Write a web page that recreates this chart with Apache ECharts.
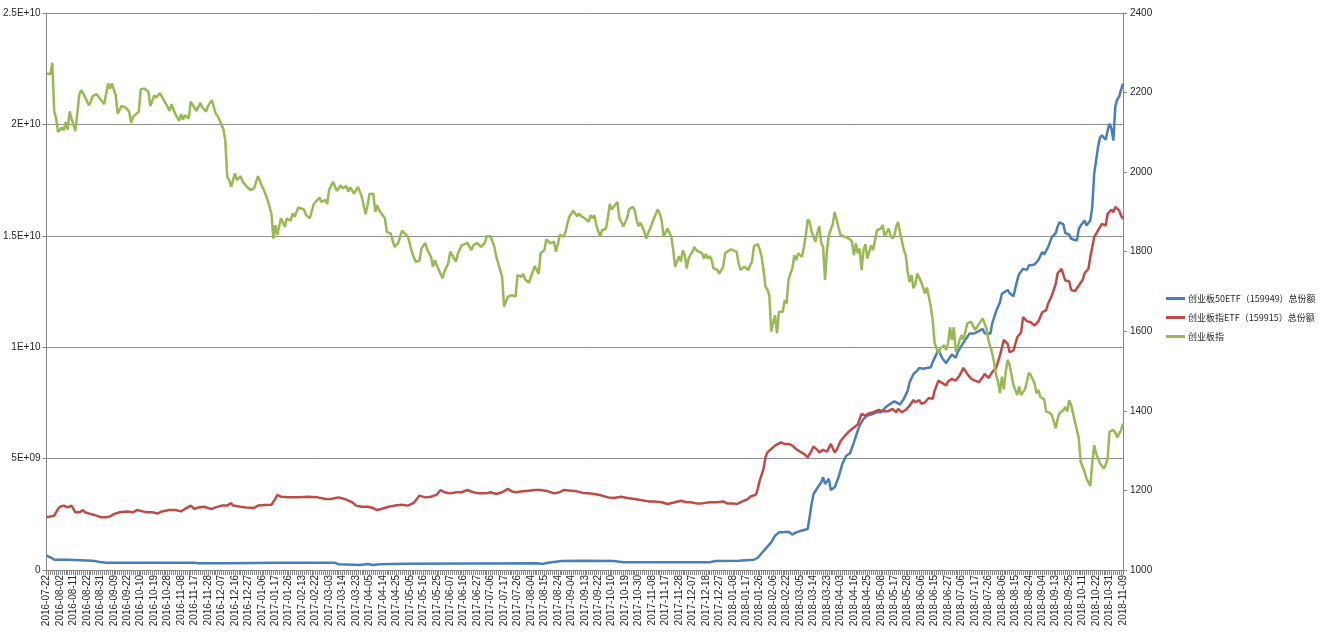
<!DOCTYPE html>
<html>
<head>
<meta charset="utf-8">
<script src="https://cdn.jsdelivr.net/npm/echarts@6/dist/echarts.min.js"></script>
<style>
html,body{margin:0;padding:0;background:#fff;}
#chart{width:1325px;height:635px;}
</style>
</head>
<body>
<div id="chart"></div>
<script>
// Tick labels (every 7th trading day)
const xLabels = ["2016-07-22","2016-08-02","2016-08-11","2016-08-22","2016-08-31","2016-09-09","2016-09-22","2016-10-10","2016-10-19","2016-10-28","2016-11-08","2016-11-17","2016-11-28","2016-12-07","2016-12-16","2016-12-27",
"2017-01-06","2017-01-17","2017-01-26","2017-02-13","2017-02-22","2017-03-03","2017-03-14","2017-03-23","2017-04-05","2017-04-14","2017-04-25","2017-05-05","2017-05-16","2017-05-25","2017-06-07","2017-06-16","2017-06-27","2017-07-06","2017-07-17","2017-07-26","2017-08-04","2017-08-15","2017-08-24","2017-09-04","2017-09-13","2017-09-22","2017-10-10","2017-10-19","2017-10-30","2017-11-08","2017-11-17","2017-11-28","2017-12-07","2017-12-18","2017-12-27",
"2018-01-08","2018-01-17","2018-01-26","2018-02-06","2018-02-22","2018-03-05","2018-03-14","2018-03-23","2018-04-03","2018-04-16","2018-04-25","2018-05-08","2018-05-17","2018-05-28","2018-06-06","2018-06-15","2018-06-27","2018-07-06","2018-07-17","2018-07-26","2018-08-06","2018-08-15","2018-08-24","2018-09-04","2018-09-13","2018-09-25","2018-10-11","2018-10-22","2018-10-31","2018-11-09"];

const seriesNames = ["创业板50ETF（159949）总份额","创业板指ETF（159915）总份额","创业板指"];

// [trading-day index, total shares in units of 1e8]
const shares159949 = [[0,6.4],[2,5.7],[4,4.6],[11,4.6],[12,4.2],[24,4.2],[27,3.7],[31,3.3],[77,3.3],[79,3.0],[94,3.0],[120,3.2],[150,3.2],[152,2.6],[163,2.2],[167,2.7],[170,2.2],[173,2.6],[187,2.8],[255,3.0],[258,2.7],[261,3.3],[268,4.0],[280,4.2],[295,4.0],[300,3.5],[345,3.5],[348,4.0],[360,4.2],[368,4.6],[370,5.5],[372,7.5],[374,9.5],[377,12.4],[379,15.4],[381,16.9],[383,16.9],[384,16.5],[386,17.2],[388,15.9],[390,16.9],[393,17.7],[396,18.4],[397,19.2],[398,29.6],[399,34.1],[401,36.8],[403,39.4],[404,41.6],[405,38.6],[407,40.9],[408,35.9],[409,35.6],[410,37.1],[412,41.6],[414,47.6],[416,51.3],[418,52.4],[420,57.3],[422,62.6],[423,64.8],[425,67.8],[427,69.3],[429,69.8],[430,70.1],[432,70.8],[434,70.8],[435,71.3],[437,73.4],[439,74.6],[441,75.7],[442,75.7],[444,74.3],[446,76.8],[448,80.5],[449,84.3],[451,88.0],[453,89.5],[454,90.7],[456,90.3],[458,90.7],[460,91.0],[461,93.3],[463,97.0],[464,98.8],[466,95.0],[468,92.8],[469,94.3],[471,96.7],[473,95.2],[474,97.8],[476,100.7],[478,103.3],[480,106.0],[481,105.2],[483,106.3],[485,107.2],[487,108.2],[488,106.3],[491,106.0],[492,110.8],[494,116.2],[496,120.2],[497,124.0],[500,125.7],[501,124.3],[503,122.8],[505,130.2],[506,132.9],[508,135.2],[510,134.7],[511,136.7],[512,137.4],[514,137.1],[516,139.2],[518,142.7],[519,141.6],[521,144.9],[523,149.4],[525,151.2],[526,154.2],[527,156.1],[529,155.1],[530,151.2],[532,150.6],[533,148.7],[536,147.9],[537,153.1],[538,154.6],[540,156.9],[541,154.6],[543,156.9],[544,162.9],[545,177.8],[547,189.8],[548,194.0],[549,195.1],[551,193.1],[552,197.3],[553,200.3],[554,198.1],[555,192.8],[556,208.0],[557,211.2],[558,212.5],[559,215.6],[560,218.3]];

const shares159915 = [[0,23.7],[2,24.0],[4,24.4],[6,27.4],[7,28.4],[9,28.9],[11,28.1],[13,28.9],[15,25.9],[17,25.9],[19,26.9],[20,25.9],[23,25.1],[26,24.4],[28,23.7],[31,23.7],[33,24.0],[35,25.1],[38,25.9],[39,26.6],[42,26.3],[45,25.9],[47,26.9],[50,26.3],[52,25.9],[55,25.9],[58,25.4],[60,26.3],[64,26.9],[67,26.9],[70,26.3],[72,27.4],[75,28.9],[77,27.4],[79,28.1],[82,28.4],[84,27.8],[86,27.4],[88,28.1],[91,28.9],[94,28.9],[96,30.1],[97,28.9],[101,28.4],[104,28.1],[108,27.8],[110,28.9],[114,29.2],[117,29.3],[119,31.9],[120,33.7],[122,32.9],[126,32.6],[131,32.6],[136,32.9],[141,32.6],[145,31.9],[148,31.9],[152,32.6],[155,31.9],[159,30.4],[161,28.9],[164,28.4],[167,28.4],[170,27.8],[172,26.9],[174,27.4],[178,28.4],[181,28.9],[185,29.3],[188,28.9],[191,30.1],[194,33.4],[197,32.6],[200,32.9],[203,33.8],[205,35.9],[207,34.9],[210,34.4],[213,34.9],[216,34.9],[219,35.9],[222,34.9],[225,34.4],[229,34.4],[231,34.9],[234,34.1],[237,34.9],[240,36.4],[242,35.3],[244,34.9],[248,35.3],[251,35.6],[254,35.9],[257,35.9],[261,35.3],[264,34.4],[267,34.9],[269,35.9],[273,35.6],[276,35.3],[279,34.6],[282,34.4],[285,34.1],[289,33.4],[292,32.6],[295,32.3],[299,32.9],[302,32.3],[306,31.9],[309,31.4],[313,30.8],[316,30.8],[320,30.4],[323,29.6],[327,30.4],[330,31.1],[333,30.4],[335,30.4],[338,29.9],[341,29.9],[345,30.4],[349,30.4],[352,30.8],[354,29.9],[357,29.9],[359,29.6],[362,30.8],[365,31.9],[366,32.9],[369,33.8],[370,36.4],[371,40.1],[373,45.4],[374,50.6],[375,52.8],[377,54.3],[379,55.8],[380,56.3],[382,57.3],[384,56.6],[386,56.6],[388,55.8],[390,54.3],[392,53.1],[394,52.1],[396,50.6],[398,53.6],[399,55.4],[401,53.9],[402,52.8],[404,53.9],[406,53.1],[408,56.6],[410,52.8],[411,53.9],[413,57.8],[415,59.9],[417,61.8],[419,63.3],[420,63.8],[422,65.3],[423,67.8],[424,70.1],[426,69.3],[428,70.4],[430,70.8],[431,71.6],[433,71.9],[435,71.3],[436,70.8],[438,71.3],[440,72.3],[442,70.8],[443,72.3],[445,70.8],[447,71.9],[449,73.8],[451,76.3],[452,75.3],[454,76.3],[455,74.6],[457,75.3],[459,77.2],[461,76.8],[462,80.5],[464,85.0],[465,84.3],[468,82.8],[469,84.7],[471,85.8],[473,85.0],[475,87.3],[477,90.7],[479,88.0],[481,85.8],[483,85.0],[485,84.3],[487,86.5],[488,88.0],[490,86.2],[492,88.8],[494,90.7],[496,96.3],[498,103.3],[500,101.5],[501,97.8],[503,98.5],[505,104.5],[507,106.7],[508,113.5],[510,111.7],[512,111.2],[514,109.7],[516,111.7],[518,115.7],[520,116.5],[521,119.5],[523,123.2],[525,128.4],[526,133.2],[528,135.2],[530,129.9],[532,129.6],[533,125.7],[535,125.1],[537,127.7],[539,130.2],[540,133.2],[542,135.2],[543,140.4],[545,149.4],[546,150.1],[548,153.9],[549,155.4],[551,154.6],[552,159.9],[554,161.7],[555,160.6],[556,162.9],[558,161.4],[559,159.1],[560,157.6]];

// [trading-day index, ChiNext index close]
const cybIndex = [[0,2248],[2,2246],[3,2275],[4,2152],[5,2135],[6,2101],[8,2112],[9,2105],[10,2126],[11,2107],[12,2153],[13,2135],[15,2103],[17,2193],[18,2206],[19,2199],[20,2202],[22,2168],[23,2177],[24,2191],[26,2196],[27,2191],[29,2177],[30,2171],[32,2223],[33,2210],[34,2223],[36,2193],[37,2147],[38,2146],[39,2166],[41,2163],[42,2168],[43,2152],[44,2124],[45,2139],[48,2152],[49,2208],[51,2210],[53,2202],[54,2166],[56,2193],[57,2187],[58,2193],[59,2199],[61,2181],[63,2164],[64,2154],[65,2171],[67,2146],[68,2143],[69,2129],[70,2146],[71,2132],[72,2143],[74,2135],[75,2177],[76,2179],[78,2154],[79,2152],[80,2174],[81,2163],[83,2152],[84,2166],[85,2163],[86,2181],[87,2177],[88,2147],[89,2141],[90,2131],[91,2135],[92,2108],[93,2080],[94,1988],[95,1980],[96,1963],[98,1997],[99,1980],[101,1990],[102,1976],[104,1965],[105,1970],[106,1955],[108,1960],[110,1990],[112,1965],[113,1956],[115,1930],[117,1896],[118,1833],[119,1867],[120,1842],[122,1884],[124,1863],[125,1884],[127,1878],[128,1896],[129,1888],[131,1911],[132,1913],[134,1906],[135,1892],[137,1884],[139,1920],[140,1923],[142,1936],[143,1925],[145,1930],[146,1920],[147,1955],[149,1976],[151,1953],[153,1967],[154,1959],[156,1965],[157,1951],[158,1962],[160,1946],[162,1963],[164,1938],[166,1894],[167,1917],[168,1945],[170,1946],[171,1900],[172,1917],[173,1904],[174,1908],[176,1884],[177,1850],[179,1846],[180,1850],[181,1812],[183,1822],[184,1839],[185,1853],[186,1848],[188,1838],[190,1800],[191,1804],[192,1775],[194,1777],[195,1808],[197,1822],[198,1806],[200,1787],[201,1762],[202,1779],[203,1766],[204,1764],[206,1733],[207,1750],[209,1771],[210,1800],[211,1797],[213,1775],[214,1796],[215,1797],[216,1816],[217,1812],[219,1822],[220,1825],[221,1804],[222,1816],[224,1822],[226,1812],[228,1822],[229,1839],[230,1836],[231,1839],[233,1812],[234,1787],[235,1783],[237,1737],[238,1662],[240,1687],[242,1691],[243,1687],[244,1687],[245,1741],[247,1737],[248,1744],[249,1730],[250,1733],[251,1722],[252,1737],[254,1764],[255,1762],[256,1744],[257,1796],[259,1804],[260,1831],[261,1833],[262,1821],[264,1825],[265,1800],[266,1819],[267,1842],[269,1838],[270,1850],[271,1871],[272,1888],[273,1888],[274,1903],[276,1889],[277,1896],[278,1890],[280,1884],[281,1888],[282,1875],[283,1892],[284,1884],[285,1892],[286,1867],[288,1838],[289,1854],[291,1858],[292,1884],[293,1920],[294,1906],[295,1913],[297,1925],[298,1884],[299,1875],[300,1863],[302,1884],[303,1906],[305,1913],[306,1904],[307,1879],[308,1864],[309,1873],[311,1850],[312,1833],[313,1848],[314,1858],[316,1884],[318,1906],[319,1896],[320,1879],[321,1838],[323,1858],[324,1854],[325,1838],[326,1805],[327,1762],[329,1789],[330,1775],[331,1804],[332,1792],[333,1758],[334,1783],[335,1779],[336,1800],[337,1812],[338,1804],[339,1806],[341,1796],[342,1783],[343,1794],[344,1783],[345,1789],[346,1779],[347,1758],[349,1754],[350,1745],[351,1747],[352,1762],[353,1796],[354,1797],[356,1806],[357,1806],[359,1800],[360,1771],[361,1754],[362,1758],[363,1762],[365,1754],[366,1766],[367,1775],[368,1814],[369,1814],[370,1819],[371,1806],[372,1787],[373,1754],[374,1712],[375,1705],[376,1691],[377,1599],[378,1621],[379,1640],[380,1595],[381,1649],[382,1652],[383,1649],[384,1678],[385,1670],[386,1729],[387,1745],[388,1758],[389,1791],[390,1779],[391,1796],[392,1800],[393,1787],[394,1812],[395,1842],[396,1881],[397,1875],[398,1850],[399,1848],[400,1825],[401,1848],[402,1864],[403,1822],[404,1812],[405,1729],[406,1804],[407,1842],[408,1838],[409,1869],[410,1900],[411,1900],[413,1842],[414,1839],[416,1836],[417,1833],[418,1831],[419,1825],[420,1791],[421,1821],[422,1796],[423,1808],[424,1754],[425,1804],[426,1819],[427,1783],[428,1800],[429,1816],[430,1804],[431,1829],[432,1854],[434,1858],[435,1867],[436,1838],[437,1833],[438,1858],[439,1842],[440,1833],[441,1839],[442,1863],[443,1875],[444,1848],[446,1804],[447,1791],[448,1749],[449,1724],[450,1741],[451,1708],[452,1720],[453,1745],[454,1743],[455,1724],[457,1695],[458,1710],[459,1687],[460,1662],[461,1628],[462,1570],[463,1565],[464,1544],[465,1557],[466,1557],[467,1565],[468,1553],[469,1570],[470,1610],[471,1578],[472,1610],[473,1549],[474,1561],[475,1578],[476,1590],[477,1578],[479,1620],[480,1621],[481,1624],[483,1603],[484,1607],[485,1618],[487,1632],[488,1635],[489,1607],[490,1578],[491,1561],[492,1544],[493,1519],[494,1490],[495,1473],[496,1444],[497,1486],[498,1454],[499,1498],[500,1528],[501,1515],[502,1490],[503,1465],[504,1465],[505,1440],[506,1461],[507,1440],[509,1454],[510,1473],[511,1496],[512,1490],[514,1469],[515,1444],[516,1452],[517,1435],[518,1440],[519,1429],[520,1398],[522,1395],[523,1389],[524,1385],[525,1356],[526,1381],[527,1394],[528,1392],[529,1402],[530,1410],[531,1398],[532,1427],[533,1415],[534,1410],[535,1373],[536,1352],[537,1331],[538,1272],[539,1268],[540,1247],[541,1230],[542,1235],[543,1211],[544,1268],[545,1314],[546,1293],[547,1281],[548,1268],[550,1255],[551,1264],[552,1280],[553,1348],[554,1352],[555,1352],[556,1345],[557,1333],[558,1328],[559,1352],[560,1368]];

const SHARE_UNIT = 1e8;
const leftTicks = {min:0, max:2.5e10, interval:5e9};
const rightTicks = {min:1000, max:2400, interval:200};

function sci(v){
  if (v === 0) return '0';
  const e = Math.floor(Math.log10(v) + 1e-9);
  let m = v / Math.pow(10, e);
  m = Math.round(m * 100) / 100;
  return String(m) + 'E+' + (e < 10 ? '0' + e : String(e));
}

const axisGray = '#868686';
const labelColor = '#262626';
const chart = echarts.init(document.getElementById('chart'), null, {renderer:'canvas'});
chart.setOption({
  animation:false,
  backgroundColor:'#ffffff',
  textStyle:{fontFamily:'"Liberation Sans", Arial, sans-serif'},
  grid:{left:44, right:202, top:13, bottom:65, containLabel:false},
  legend:{
    orient:'vertical', left:1161, top:289,
    icon:'rect', itemWidth:19, itemHeight:3, itemGap:10,
    textStyle:{fontSize:9, color:'#262626', fontFamily:'"Noto Sans CJK SC", sans-serif', padding:[0,0,0,-2]},
    data:seriesNames
  },
  xAxis:{
    type:'value', min:0, max:560, interval:7,
    axisLine:{show:true, onZero:false, lineStyle:{color:axisGray, width:1}},
    axisTick:{show:true, length:5, lineStyle:{color:axisGray}},
    minorTick:{show:true, splitNumber:7, length:5, lineStyle:{color:axisGray}},
    splitLine:{show:false}, minorSplitLine:{show:false},
    axisLabel:{rotate:90, fontSize:10, color:labelColor, margin:5,
      formatter:function(v){ return xLabels[Math.round(v/7)] || ''; }}
  },
  yAxis:[{
    type:'value', position:'left', min:leftTicks.min, max:leftTicks.max, interval:leftTicks.interval,
    axisLine:{show:true, lineStyle:{color:axisGray}},
    axisTick:{show:true, length:4, lineStyle:{color:axisGray}},
    splitLine:{show:true, lineStyle:{color:'#8f8f8f', width:1}},
    axisLabel:{fontSize:10, color:labelColor, margin:6, formatter:sci}
  },{
    type:'value', position:'right', min:rightTicks.min, max:rightTicks.max, interval:rightTicks.interval,
    axisLine:{show:true, lineStyle:{color:axisGray}},
    axisTick:{show:true, length:4, lineStyle:{color:axisGray}},
    splitLine:{show:false},
    axisLabel:{fontSize:10, color:labelColor, margin:7, formatter:function(v){ return String(v); }}
  }],
  series:[
    {name:seriesNames[0], type:'line', yAxisIndex:0, showSymbol:false, symbol:'none',
     lineStyle:{color:'#4A7EBB', width:2.5}, itemStyle:{color:'#4A7EBB'},
     data:shares159949.map(d => [d[0], d[1]*SHARE_UNIT])},
    {name:seriesNames[1], type:'line', yAxisIndex:0, showSymbol:false, symbol:'none',
     lineStyle:{color:'#BE4B48', width:2.5}, itemStyle:{color:'#BE4B48'},
     data:shares159915.map(d => [d[0], d[1]*SHARE_UNIT])},
    {name:seriesNames[2], type:'line', yAxisIndex:1, showSymbol:false, symbol:'none',
     lineStyle:{color:'#98B954', width:2.5}, itemStyle:{color:'#98B954'},
     data:cybIndex}
  ]
});
</script>
</body>
</html>
